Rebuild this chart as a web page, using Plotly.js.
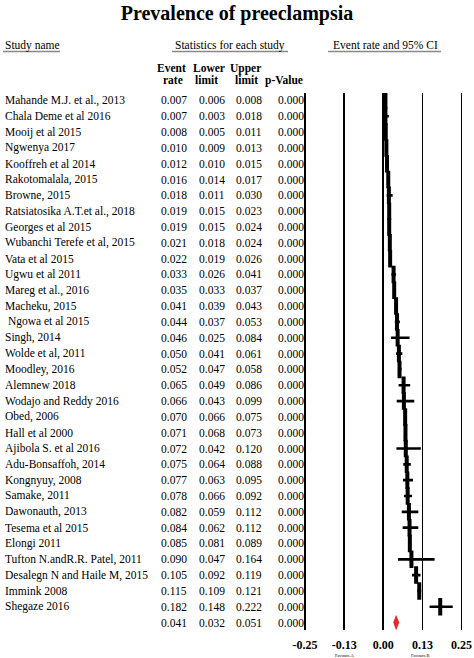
<!DOCTYPE html>
<html>
<head>
<meta charset="utf-8">
<script src="https://cdn.plot.ly/plotly-3.0.1.min.js"></script>
<style>html,body{margin:0;padding:0;background:#fff;}#chart{width:474px;height:658px;}</style>
</head>
<body>
<div id="chart"></div>
<script>
const studies = [
  "Mahande M.J. et al., 2013","Chala Deme et al 2016","Mooij et al 2015","Ngwenya 2017",
  "Kooffreh et al 2014","Rakotomalala, 2015","Browne, 2015","Ratsiatosika A.T.et al., 2018",
  "Georges et al 2015","Wubanchi Terefe et al, 2015","Vata et al 2015","Ugwu et al 2011",
  "Mareg et al., 2016","Macheku, 2015"," Ngowa et al 2015","Singh, 2014","Wolde et al, 2011",
  "Moodley, 2016","Alemnew 2018","Wodajo and Reddy 2016","Obed, 2006","Hall et al 2000",
  "Ajibola S. et al 2016","Adu-Bonsaffoh, 2014","Kongnyuy, 2008","Samake, 2011",
  "Dawonauth, 2013","Tesema et al 2015","Elongi 2011","Tufton N.andR.R. Patel, 2011",
  "Desalegn N and Haile M, 2015","Immink 2008","Shegaze 2016"
];
const eventRate = [0.007,0.007,0.008,0.010,0.012,0.016,0.018,0.019,0.019,0.021,0.022,0.033,
  0.035,0.041,0.044,0.046,0.050,0.052,0.065,0.066,0.070,0.071,0.072,0.075,0.077,0.078,
  0.082,0.084,0.085,0.090,0.105,0.115,0.182];
const lowerLimit = [0.006,0.003,0.005,0.009,0.010,0.014,0.011,0.015,0.015,0.018,0.019,0.026,
  0.033,0.039,0.037,0.025,0.041,0.047,0.049,0.043,0.066,0.068,0.042,0.064,0.063,0.066,
  0.059,0.062,0.081,0.047,0.092,0.109,0.148];
const upperLimit = [0.008,0.018,0.011,0.013,0.015,0.017,0.030,0.023,0.024,0.024,0.026,0.041,
  0.037,0.043,0.053,0.084,0.061,0.058,0.086,0.099,0.075,0.073,0.120,0.088,0.095,0.092,
  0.112,0.112,0.089,0.164,0.119,0.121,0.222];
const pValue = new Array(33).fill(0.000);
const pooledRate = 0.041, pooledLower = 0.032, pooledUpper = 0.051, pooledP = 0.000;
const tickValues = [-0.25,-0.125,0,0.125,0.25];
const tickLabels = ["-0.25","-0.13","0.00","0.13","0.25"];

const W = 474, H = 658, TOP = 93, BOT = 630;
const px = v => v / W;
const py = v => (BOT - v) / (BOT - TOP);
const rows = studies.map((_, i) => i);
const pooledRow = studies.length;

const font = "Liberation Serif, Times New Roman, serif";
const ann = [];
function txt(x, y, t, anchor, opts) {
  ann.push(Object.assign({xref:'paper', yref:'y', x:px(x), y:y, text:t, showarrow:false,
    xanchor:anchor, yanchor:'middle', font:{family:font, size:11.5, color:'#000'}}, opts||{}));
}
const allRows = rows.concat([pooledRow]);
const allRate = eventRate.concat([pooledRate]);
const allLow = lowerLimit.concat([pooledLower]);
const allUp = upperLimit.concat([pooledUpper]);
const allP = pValue.concat([pooledP]);
allRows.forEach(i => {
  if (i < studies.length) txt(3, i, studies[i], 'left');
  txt(188.5, i, allRate[i].toFixed(3), 'right');
  txt(226.5, i, allLow[i].toFixed(3), 'right');
  txt(263.5, i, allUp[i].toFixed(3), 'right');
  txt(305.5, i, allP[i].toFixed(3), 'right');
});
function ptxt(x, y, t, anchor, size, bold) {
  ann.push({xref:'paper', yref:'paper', x:px(x), y:py(y), text:t, showarrow:false,
    xanchor:anchor, yanchor:'middle', font:{family:font, size:size, color:'#000', weight: bold?'bold':'normal'}});
}
ptxt(3, 45, "Study name", 'left', 11.5);
ptxt(230, 45, "Statistics for each study", 'center', 11.5);
ptxt(385, 45, "Event rate and 95% CI", 'center', 11.5);
ptxt(171.5, 68.5, "Event", 'center', 11.5, true);
ptxt(172.5, 80, "rate", 'center', 11.5, true);
ptxt(209, 68.5, "Lower", 'center', 11.5, true);
ptxt(206, 80, "limit", 'center', 11.5, true);
ptxt(245, 68.5, "Upper", 'center', 11.5, true);
ptxt(246, 80, "limit", 'center', 11.5, true);
ptxt(284, 80, "p-Value", 'center', 11.5, true);
ptxt(344, 655, "Favours A", 'center', 4.5);
ptxt(420, 655, "Favours B", 'center', 4.5);

const shapes = [[3,60],[172,288],[328,441]].map(([a,b]) => ({
  type:'line', xref:'paper', yref:'paper', x0:px(a), x1:px(b), y0:py(51.5), y1:py(51.5),
  line:{color:'#888', width:1.5}
}));

const studyTrace = {
  type:'scatter', mode:'markers', x:eventRate, y:rows,
  marker:{symbol:'line-ns', size:12.5, color:'#000', line:{color:'#000', width:4}},
  error_x:{type:'data', symmetric:false,
    array:upperLimit.map((u,i)=>u-eventRate[i]),
    arrayminus:lowerLimit.map((l,i)=>eventRate[i]-l),
    thickness:2.7, width:0, color:'#000'},
  hoverinfo:'skip'
};
const diamond = {
  type:'scatter', mode:'lines', fill:'toself', fillcolor:'#e8262d',
  x:[pooledLower,pooledRate,pooledUpper,pooledRate,pooledLower],
  y:[pooledRow,pooledRow-0.5,pooledRow,pooledRow+0.5,pooledRow],
  line:{width:0, color:'#e8262d'}, hoverinfo:'skip'
};

const unit = (461.5-305)/0.5;
const xMin = -0.27, xMax = 0.27;
const left = 383.25 + xMin*unit, right = 383.25 + xMax*unit;

const layout = {
  width:W, height:H, margin:{l:0, r:0, t:TOP, b:H-BOT, pad:0},
  paper_bgcolor:'#fff', plot_bgcolor:'#fff', showlegend:false, hovermode:false,
  font:{family:font, color:'#000'},
  title:{text:'<b>Prevalence of preeclampsia</b>', font:{family:font, size:20, color:'#000'},
    x:0.5, xanchor:'center', y:1-13/H, yanchor:'middle', yref:'container'},
  xaxis:{domain:[left/W, right/W], range:[xMin,xMax], tickvals:tickValues, ticktext:tickLabels,
    showgrid:true, gridcolor:'#000', gridwidth:1.6, zeroline:false, showline:false,
    ticks:'', ticklabelstandoff:6, tickfont:{family:font, size:12, color:'#000', weight:'bold'}, fixedrange:true},
  yaxis:{range:[pooledRow+0.47, -0.47], showgrid:false, zeroline:false, showticklabels:false,
    showline:false, ticks:'', fixedrange:true},
  annotations:ann, shapes:shapes
};
Plotly.newPlot('chart', [studyTrace, diamond], layout, {staticPlot:true, displayModeBar:false});
</script>
</body>
</html>
